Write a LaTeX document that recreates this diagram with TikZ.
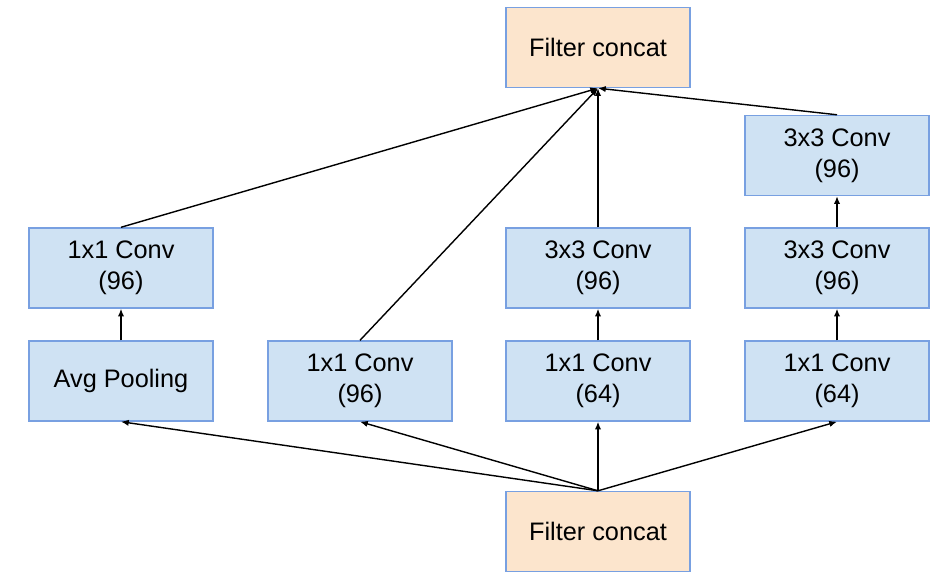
\documentclass[tikz,border=0pt]{standalone}
\usepackage{fontspec}
\setmainfont{Liberation Sans}
\usepackage{tikz}
\usepackage{xcolor}
\usetikzlibrary{positioning,arrows.meta}
\definecolor{boxblue}{RGB}{207,226,243}
\definecolor{boxpeach}{RGB}{252,229,205}
\definecolor{edgeblue}{RGB}{120,160,225}
\tikzset{
    conv/.style={
        rectangle,
        draw=edgeblue,
        fill=boxblue,
        line width=1pt,
        minimum width=4.6cm,
        minimum height=2.0cm,
        align=center,
        inner sep=2pt,
        font=\fontsize{18}{22}\selectfont
    },
    cat/.style={
        conv,
        fill=boxpeach
    },
    arr/.style={-{Latex[length=5.5pt,width=4.5pt]},line width=1pt,black}
}

\begin{document}
\begin{tikzpicture}
\useasboundingbox (0,0) rectangle (23.7,14.55);

\node[cat]  (top) at (14.95,13.3625) {Filter concat};
\node[cat]  (bot) at (14.95,1.2625) {Filter concat};

\node[conv] (pool) at (3.025,5.025) {Avg Pooling};
\node[conv] (pc)   at (3.025,7.85) {1x1 Conv\\(96)};

\node[conv] (oc)   at (9.0,5.025) {1x1 Conv\\(96)};

\node[conv] (ra)   at (14.95,5.025) {1x1 Conv\\(64)};
\node[conv] (rb)   at (14.95,7.85) {3x3 Conv\\(96)};

\node[conv] (sa)   at (20.925,5.025) {1x1 Conv\\(64)};
\node[conv] (sb)   at (20.925,7.85) {3x3 Conv\\(96)};
\node[conv] (sc)   at (20.925,10.6625) {3x3 Conv\\(96)};

\draw[arr] (bot.north) -- (pool.south);
\draw[arr] (bot.north) -- (oc.south);
\draw[arr] (bot.north) -- (ra.south);
\draw[arr] (bot.north) -- (sa.south);

\draw[arr] (pool) -- (pc);
\draw[arr] (ra) -- (rb);
\draw[arr] (sa) -- (sb);
\draw[arr] (sb) -- (sc);

\draw[arr] (pc.north) -- (top.south);
\draw[arr] (oc.north) -- (top.south);
\draw[arr] (rb.north) -- (top.south);
\draw[arr] (sc.north) -- (top.south);
\end{tikzpicture}
\end{document}
